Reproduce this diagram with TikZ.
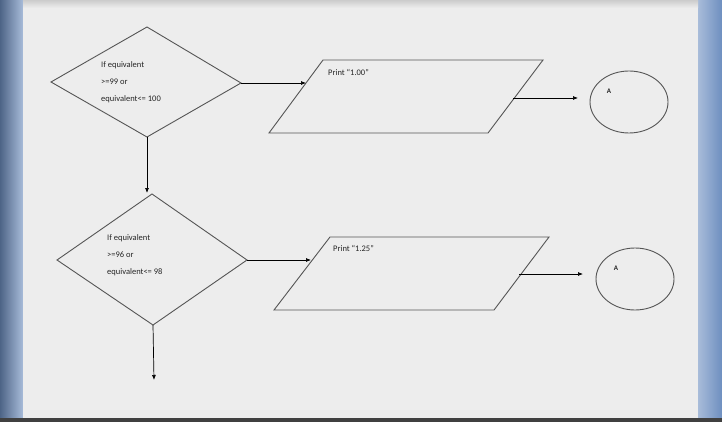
\documentclass[tikz,border=0pt]{standalone}
\usepackage{fontspec}
\setmainfont{Carlito}
\usetikzlibrary{arrows.meta}
\definecolor{page}{HTML}{EDEDED}
\definecolor{side}{HTML}{6E8FC0}
\definecolor{ln}{HTML}{555555}
\begin{document}
\begin{tikzpicture}[x=1pt,y=-1pt,
  shp/.style={draw=ln,line width=0.9pt},
  arr/.style={draw=black,line width=0.7pt,-{Latex[length=5pt,width=4pt]}},
  lbl/.style={font=\fontsize{8.5}{17}\selectfont,text=black!85,inner sep=0pt}]
\useasboundingbox (0,0) rectangle (722,422);
\fill[side] (0,0) rectangle (722,422);
\shade[left color=side!70!black,right color=side!60!white] (0,0) rectangle (23,418);
\shade[left color=side!60!white,right color=side] (698,0) rectangle (722,418);
\fill[page] (23,0) rectangle (698,418);
\shade[top color=black!20,bottom color=page] (23,0) rectangle (698,8);
\fill[black!75] (0,418) rectangle (722,422);
% diamond 1
\coordinate (d1l) at (51,82); \coordinate (d1t) at (147,27);
\coordinate (d1r) at (241,83); \coordinate (d1b) at (147,137);
\draw[shp] (d1l)--(d1t)--(d1r)--(d1b)--cycle;
\node[lbl,align=left,anchor=west] (t1) at (101,82) {If equivalent\\ >=99 or\\ equivalent<= 100};
% diamond 2
\coordinate (d2l) at (57,260); \coordinate (d2t) at (152,194);
\coordinate (d2r) at (247,260); \coordinate (d2b) at (153,325);
\draw[shp] (d2l)--(d2t)--(d2r)--(d2b)--cycle;
\node[lbl,align=left,anchor=west] (t2) at (107,255) {If equivalent\\ >=96 or\\ equivalent<= 98};
% parallelograms
\draw[shp] (323,60)--(543,60)--(488,133)--(269,133)--cycle;
\node[lbl,anchor=west] (p1) at (328,72) {Print ``1.00''};
\draw[shp] (330,237)--(549,237)--(494,310)--(274,310)--cycle;
\node[lbl,anchor=west] (p2) at (333,248) {Print ``1.25''};
\coordinate (p1l) at (306,83); \coordinate (p1r) at (513,98);
\coordinate (p2l) at (311,260); \coordinate (p2r) at (519,274);
% circles
\draw[shp] (629,102) ellipse (39 and 31);
\node[lbl,font=\fontsize{7}{8}\selectfont\bfseries] (a1) at (609,91) {A};
\draw[shp] (635,279) ellipse (39 and 31);
\node[lbl,font=\fontsize{7}{8}\selectfont\bfseries] (a2) at (616,268) {A};
\coordinate (c1) at (578,98); \coordinate (c2) at (583,274);
\coordinate (end) at (154,380);
% arrows
\draw[arr] (d1r)--(p1l);
\draw[arr] (p1r)--(c1);
\draw[arr] (d1b)--(147,193);
\draw[arr] (d2r)--(p2l);
\draw[arr] (p2r)--(c2);
\draw[arr] (d2b)--(end);
\end{tikzpicture}
\end{document}
